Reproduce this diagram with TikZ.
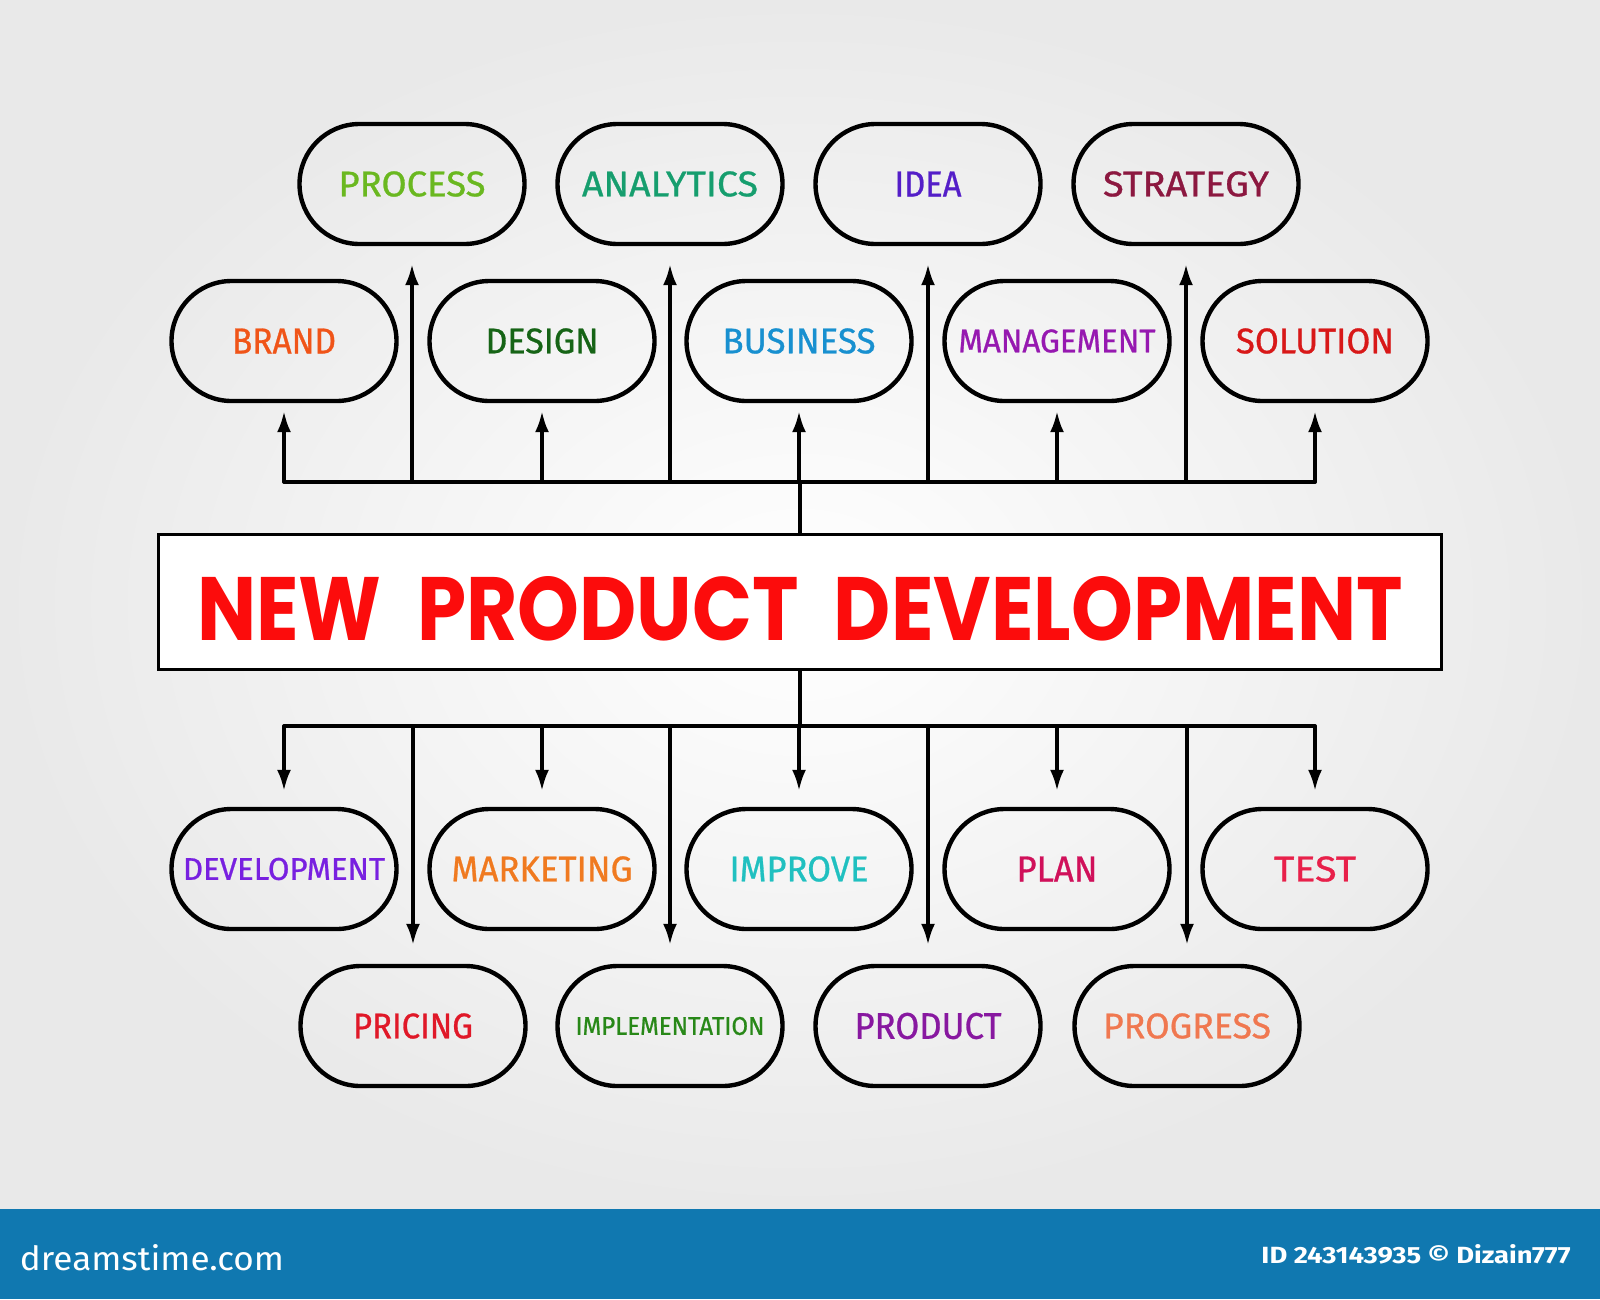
\documentclass[tikz,border=0pt]{standalone}
\usepackage{graphicx}
\usepackage{fontspec}
\setmainfont{Fira Sans}
\newfontfamily\lblfont{Fira Sans}[FakeBold=0.8]
\newfontfamily\titlefont{Poppins}
\usetikzlibrary{arrows.meta,shapes.misc}
\definecolor{cProcess}{RGB}{106,184,32}
\definecolor{cAnalytics}{RGB}{22,158,110}
\definecolor{cIdea}{RGB}{84,30,200}
\definecolor{cStrategy}{RGB}{140,24,64}
\definecolor{cBrand}{RGB}{240,84,24}
\definecolor{cDesign}{RGB}{22,100,22}
\definecolor{cBusiness}{RGB}{24,144,208}
\definecolor{cManagement}{RGB}{150,24,176}
\definecolor{cSolution}{RGB}{216,24,24}
\definecolor{cDevelopment}{RGB}{120,32,224}
\definecolor{cMarketing}{RGB}{240,122,32}
\definecolor{cImprove}{RGB}{32,192,192}
\definecolor{cPlan}{RGB}{208,16,90}
\definecolor{cTest}{RGB}{232,32,74}
\definecolor{cPricing}{RGB}{224,24,40}
\definecolor{cImplementation}{RGB}{40,136,24}
\definecolor{cProduct}{RGB}{136,24,160}
\definecolor{cProgress}{RGB}{240,120,80}
\definecolor{titlered}{RGB}{252,12,12}
\definecolor{footblue}{RGB}{16,120,176}
\definecolor{bgedge}{RGB}{233,233,233}
\newcommand\fitlbl[3]{\resizebox{#1pt}{#2pt}{\lblfont #3}}
\begin{document}
\begin{tikzpicture}[x=1pt,y=-1pt,
  pill/.style={draw=black, line width=4.4pt, rounded rectangle, minimum width=225pt, minimum height=120pt, inner sep=0pt},
  conn/.style={line width=3.4pt, black, line cap=round},
  arr/.style={conn, -{Latex[length=21pt,width=14pt]}}]
\useasboundingbox (0,0) rectangle (1600,1299);
\fill[white] (0,0) rectangle (1600,1209);
\shade[inner color=white, outer color=bgedge] (0,0) rectangle (1600,1209);
\fill[footblue] (0,1209) rectangle (1600,1299);
\node[text=white, inner sep=0pt] (ds) at (152,1258) {\resizebox{264pt}{26pt}{dreamstime.com}};
\node[text=white, inner sep=0pt] (id) at (1416,1254) {\resizebox{309pt}{19pt}{\bfseries ID 243143935 © Dizain777}};

% title
\node[draw, line width=3.4pt, fill=white, minimum width=1283pt, minimum height=135pt, inner sep=0pt, text height=76pt, text depth=0pt, text=titlered] (title) at (800,602) {\resizebox{1205pt}{64pt}{\titlefont\bfseries NEW\hspace{0.45em}PRODUCT\hspace{0.45em}DEVELOPMENT}};

% top row
\node[pill, text=cProcess] (process) at (412,184) {\fitlbl{147}{25}{PROCESS}};
\node[pill, text=cAnalytics] (analytics) at (670,184) {\fitlbl{176}{25}{ANALYTICS}};
\node[pill, text=cIdea] (idea) at (928,184) {\fitlbl{67}{25}{IDEA}};
\node[pill, text=cStrategy] (strategy) at (1186,184) {\fitlbl{166}{25}{STRATEGY}};
% middle row
\node[pill, text=cBrand] (brand) at (284,341) {\fitlbl{104}{25}{BRAND}};
\node[pill, text=cDesign] (design) at (542,341) {\fitlbl{113}{25}{DESIGN}};
\node[pill, text=cBusiness] (business) at (799,341) {\fitlbl{153}{25}{BUSINESS}};
\node[pill, text=cManagement] (management) at (1057,341) {\fitlbl{197}{23}{MANAGEMENT}};
\node[pill, text=cSolution] (solution) at (1315,341) {\fitlbl{158}{25}{SOLUTION}};
% row 3
\node[pill, text=cDevelopment] (development) at (284,869) {\fitlbl{202}{22}{DEVELOPMENT}};
\node[pill, text=cMarketing] (marketing) at (542,869) {\fitlbl{181}{25}{MARKETING}};
\node[pill, text=cImprove] (improve) at (799,869) {\fitlbl{139}{25}{IMPROVE}};
\node[pill, text=cPlan] (plan) at (1057,869) {\fitlbl{81}{25}{PLAN}};
\node[pill, text=cTest] (test) at (1315,869) {\fitlbl{82}{25}{TEST}};
% row 4
\node[pill, text=cPricing] (pricing) at (413,1026) {\fitlbl{120}{25}{PRICING}};
\node[pill, text=cImplementation] (implementation) at (670,1026) {\fitlbl{189}{18}{IMPLEMENTATION}};
\node[pill, text=cProduct] (product) at (928,1026) {\fitlbl{147}{26}{PRODUCT}};
\node[pill, text=cProgress] (progress) at (1187,1026) {\fitlbl{168}{25}{PROGRESS}};

% connectors top
\coordinate (bt) at (800,482);
\coordinate (bb) at (800,726);
\draw[conn] (title.north) -- (title.north |- bt);
\draw[conn] (brand |- bt) -- (solution |- bt);
\foreach \n in {brand,design,business,management,solution}
  \draw[arr, shorten >=8pt] (\n |- bt) -- (\n.south);
\foreach \n in {process,analytics,idea,strategy}
  \draw[arr, shorten >=18pt] (\n |- bt) -- (\n.south);
% connectors bottom
\draw[conn] (title.south) -- (title.south |- bb);
\draw[conn] (development |- bb) -- (test |- bb);
\foreach \n in {development,marketing,improve,plan,test}
  \draw[arr, shorten >=16pt] (\n |- bb) -- (\n.north);
\foreach \n in {pricing,implementation,product,progress}
  \draw[arr, shorten >=19pt] (\n |- bb) -- (\n.north);
\end{tikzpicture}
\end{document}
